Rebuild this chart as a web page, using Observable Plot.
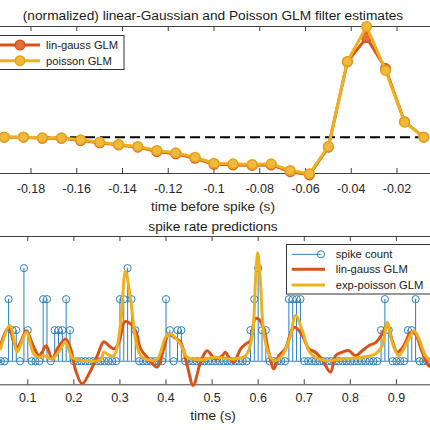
<!DOCTYPE html>
<html><head><meta charset="utf-8">
<script src="https://cdn.jsdelivr.net/npm/d3@7"></script>
<script src="https://cdn.jsdelivr.net/npm/@observablehq/plot@0.6"></script>
<style>
html,body{margin:0;padding:0;background:#fff;}
#fig{position:relative;width:430px;height:430px;overflow:hidden;background:#fff;}
.panel{position:absolute;left:0;width:430px;height:215px;overflow:hidden;}
#overlay{position:absolute;left:0;top:0;}
</style></head><body>
<div id="fig"><div class="panel" id="p1" style="top:0"></div><div class="panel" id="p2" style="top:215px"></div></div>
<script>
// ---------- top panel: filter estimates ----------
const filterLags = [-0.2,-0.1917,-0.1833,-0.175,-0.1667,-0.1583,-0.15,-0.1417,-0.1333,-0.125,-0.1167,-0.1083,-0.1,-0.0917,-0.0833,-0.075,-0.0667,-0.0583,-0.05,-0.0417,-0.0333,-0.025,-0.0167,-0.0083];
const linGaussFilter = [0,0,0,-0.01,-0.01,-0.03,-0.05,-0.07,-0.09,-0.13,-0.15,-0.19,-0.245,-0.25,-0.255,-0.25,-0.31,-0.34,-0.09,0.68,0.9,0.62,0.14,0.0];
const poissonFilter = [0,0,0,-0.006,-0.006,-0.024,-0.045,-0.066,-0.084,-0.12,-0.141,-0.181,-0.235,-0.241,-0.247,-0.241,-0.301,-0.331,-0.084,0.684,1.0,0.603,0.136,0.0];
const filterTicks = [-0.18,-0.16,-0.14,-0.12,-0.1,-0.08,-0.06,-0.04,-0.02];

// ---------- bottom panel: spike rate predictions ----------
const binWidth = 1/120;
const spikeCounts = [
 0,0,0,0,0,0,0,2,1,1,
 0,3,1,0,0,0,2,2,0,1,
 1,1,2,1,0,0,0,0,0,0,
 0,0,0,0,0,0,2,2,3,2,
 1,0,0,0,0,0,0,0,2,1,
 0,1,1,0,0,0,0,0,0,0,
 0,0,0,0,0,0,0,0,0,0,
 1,2,3,1,1,0,0,0,0,0,
 2,2,2,2,0,0,0,0,0,0,
 0,0,0,0,0,0,0,0,0,0,
 0,0,0,0,1,2,1,0,0,0,
 0,1,1,2,0,0,0,0,0,0];
const linGaussT = [0.041,0.048,0.059,0.070,0.077,0.084,0.097,0.110,0.124,0.131,0.140,0.153,0.164,0.182,0.193,0.204,0.218,0.233,0.251,0.265,0.276,0.287,0.298,0.310,0.319,0.334,0.345,0.359,0.381,0.395,0.406,0.417,0.431,0.446,0.459,0.475,0.489,0.507,0.522,0.529,0.536,0.547,0.562,0.573,0.583,0.593,0.601,0.612,0.623,0.634,0.645,0.659,0.674,0.681,0.696,0.710,0.724,0.739,0.757,0.768,0.782,0.797,0.811,0.826,0.840,0.855,0.869,0.880,0.891,0.902,0.916,0.931,0.941,0.956,0.970,0.980];
const linGaussRate = [0.5,0.82,1.09,0.6,0.45,0.6,0.98,0.56,0.18,0.29,0.5,0.07,0.4,0.72,0.4,-0.3,-0.73,-0.4,0.18,0.63,0.5,0.4,0.61,1.27,1.25,0.98,0.4,0.13,-0.19,0.4,0.88,0.77,0.63,-0.14,-0.78,-0.03,0.34,0.07,0.18,0.29,0.13,-0.03,0.4,0.56,0.66,1.36,1.36,1.04,0.29,-0.25,0.18,0.4,1.04,1.09,0.82,0.4,0.29,0.05,-0.35,0.18,0.29,0.34,0.18,0.34,0.5,0.6,0.88,1.2,0.66,0.29,0.5,0.93,0.88,0.29,-0.14,-0.2];
const poissonT = [0.041,0.061,0.077,0.084,0.097,0.113,0.124,0.135,0.153,0.167,0.182,0.196,0.207,0.258,0.265,0.276,0.287,0.301,0.312,0.323,0.334,0.345,0.359,0.381,0.399,0.410,0.431,0.446,0.475,0.507,0.544,0.573,0.587,0.594,0.599,0.605,0.612,0.623,0.634,0.652,0.670,0.681,0.696,0.710,0.724,0.753,0.782,0.826,0.855,0.869,0.880,0.891,0.905,0.923,0.938,0.949,0.963,0.974,0.985];
const poissonRate = [0.4,1.15,0.3,0.5,0.93,0.24,0.13,0.18,0.07,0.3,0.6,0.13,0.05,0.05,0.29,0.2,0.18,1.15,2.91,2.0,0.72,0.18,0.05,0.07,0.77,0.88,0.56,0.13,0.05,0.13,0.07,0.18,0.82,2.54,3.5,2.54,0.93,0.24,0.02,0.18,0.82,1.47,0.98,0.34,0.13,0.02,0.07,0.13,0.24,0.5,1.25,0.6,0.18,0.6,0.98,0.72,0.18,0.02,0.0];
const rateTicks = [0.1,0.2,0.3,0.4,0.5,0.6,0.7,0.8,0.9];

// ---------- styling ----------
const FONT = '"Liberation Sans", Arial, Helvetica, sans-serif';
const AX = "#404040", TXT = "#262626";
const BLUE = "#2b80bf", RED = "#D95319", YEL = "#EDB120";
const W = 430;

// ---------- top plot ----------
const H1 = 215, mt1 = 26, mb1 = 42, fh1 = H1 - mt1 - mb1;
const yDom1 = [-0.328, 1.0], xDom1 = [-0.19333, -0.005355];
const filterRows = filterLags.map((t, i) => ({t, lg: linGaussFilter[i], po: poissonFilter[i]}));
const plot1 = Plot.plot({
  width: W, height: H1, marginTop: mt1, marginBottom: mb1, marginLeft: 0, marginRight: 0,
  x: {domain: xDom1}, y: {domain: yDom1, axis: null},
  style: {fontFamily: FONT, fontSize: "12.5px", color: TXT, background: "transparent"},
  marks: [
    Plot.ruleY([yDom1[0]], {stroke: AX, strokeWidth: 1}),
    Plot.ruleY([yDom1[1]], {stroke: AX, strokeWidth: 1}),
    Plot.tickX(filterTicks, {x: d => d, insetTop: fh1 - 5, stroke: AX}),
    Plot.tickX(filterTicks, {x: d => d, insetBottom: fh1 - 5, stroke: AX}),
    Plot.ruleY([0], {stroke: "#000", strokeWidth: 2, strokeDasharray: "10,5", strokeDashoffset: 5}),
    Plot.line(filterRows, {x: "t", y: "lg", stroke: RED, strokeWidth: 3}),
    Plot.dot(filterRows, {x: "t", y: "lg", r: 4.8, fill: "#E0703E", stroke: RED, strokeWidth: 1.5}),
    Plot.line(filterRows, {x: "t", y: "po", stroke: YEL, strokeWidth: 3}),
    Plot.dot(filterRows, {x: "t", y: "po", r: 4.8, fill: "#F0B93A", stroke: "#E2A21C", strokeWidth: 1.5}),
    Plot.axisX(filterTicks, {anchor: "bottom", tickSize: 0, tickPadding: 10.8, tickFormat: d => String(d), fontSize: 12.5, label: null})
  ]
});
document.getElementById("p1").appendChild(plot1);

// ---------- bottom plot ----------
const H2 = 215, mt2 = 21, mb2 = 45.7, fh2 = H2 - mt2 - mb2;
const yDom2 = [-0.76, 4.02], xDom2 = [0.0408, 0.974];
const spikeRows = spikeCounts.map((c, i) => ({t: i * binWidth, c}));
const lgRows = linGaussT.map((t, i) => ({t, v: linGaussRate[i]}));
const poRows = poissonT.map((t, i) => ({t, v: poissonRate[i]}));
const plot2 = Plot.plot({
  width: W, height: H2, marginTop: mt2, marginBottom: mb2, marginLeft: 0, marginRight: 0,
  x: {domain: xDom2}, y: {domain: yDom2, axis: null},
  style: {fontFamily: FONT, fontSize: "12.5px", color: TXT, background: "transparent"},
  marks: [
    Plot.ruleY([yDom2[0]], {stroke: AX, strokeWidth: 1}),
    Plot.ruleY([yDom2[1]], {stroke: AX, strokeWidth: 1}),
    Plot.tickX(rateTicks, {x: d => d, insetTop: fh2 - 5, stroke: AX}),
    Plot.tickX(rateTicks, {x: d => d, insetBottom: fh2 - 5, stroke: AX}),
    Plot.ruleY([0], {stroke: BLUE, strokeWidth: 1}),
    Plot.ruleX(spikeRows, {x: "t", y1: 0, y2: "c", stroke: BLUE, strokeWidth: 1}),
    Plot.dot(spikeRows, {x: "t", y: "c", r: 3.6, stroke: BLUE, fill: "none", strokeWidth: 1}),
    Plot.line(lgRows, {x: "t", y: "v", stroke: RED, strokeWidth: 3, curve: "catmull-rom"}),
    Plot.line(poRows, {x: "t", y: "v", stroke: YEL, strokeWidth: 3, curve: "catmull-rom"}),
    Plot.axisX(rateTicks, {anchor: "bottom", tickSize: 0, tickPadding: 8.8, tickFormat: d => String(d), fontSize: 12.5, label: null})
  ]
});
document.getElementById("p2").appendChild(plot2);

// ---------- titles, labels, legends ----------
const svg = d3.create("svg").attr("id", "overlay").attr("width", 430).attr("height", 430)
  .style("font-family", FONT);
function label(x, y, s, size, anchor = "middle", color = "#1a1a1a") {
  svg.append("text").attr("x", x).attr("y", y).attr("text-anchor", anchor)
    .attr("font-size", size).attr("fill", color).text(s);
}
label(213, 20.4, "(normalized) linear-Gaussian and Poisson GLM filter estimates", 13.7);
label(213, 211.3, "time before spike (s)", 13.7, "middle", TXT);
label(213, 230.5, "spike rate predictions", 13.7);
label(213, 419.8, "time (s)", 13.7, "middle", TXT);

// legend 1 (top)
svg.append("rect").attr("x", -4.5).attr("y", 35.5).attr("width", 128.5).attr("height", 34)
  .attr("fill", "#fff").attr("stroke", "#333").attr("stroke-width", 1);
[[45, RED, "#E0703E", RED, "lin-gauss GLM"], [60.7, YEL, "#F0B93A", "#E2A21C", "poisson GLM"]].forEach(([y, c, f, s, t]) => {
  svg.append("line").attr("x1", 0).attr("x2", 40).attr("y1", y).attr("y2", y).attr("stroke", c).attr("stroke-width", 3);
  svg.append("circle").attr("cx", 20).attr("cy", y).attr("r", 4.8).attr("fill", f).attr("stroke", s).attr("stroke-width", 1.5);
  label(46, y + 4, t, 11.2, "start");
});

// legend 2 (bottom)
svg.append("rect").attr("x", 286.5).attr("y", 244.5).attr("width", 160).attr("height", 49.5)
  .attr("fill", "#fff").attr("stroke", "#333").attr("stroke-width", 1);
svg.append("line").attr("x1", 291.7).attr("x2", 321).attr("y1", 254.3).attr("y2", 254.3).attr("stroke", BLUE).attr("stroke-width", 1);
svg.append("circle").attr("cx", 321).attr("cy", 254.3).attr("r", 3.6).attr("fill", "none").attr("stroke", BLUE).attr("stroke-width", 1);
label(335.7, 258.3, "spike count", 11.2, "start");
svg.append("line").attr("x1", 291.7).attr("x2", 325).attr("y1", 269.3).attr("y2", 269.3).attr("stroke", RED).attr("stroke-width", 3);
label(335.7, 273.3, "lin-gauss GLM", 11.2, "start");
svg.append("line").attr("x1", 291.7).attr("x2", 325).attr("y1", 285).attr("y2", 285).attr("stroke", YEL).attr("stroke-width", 3);
label(335.7, 289, "exp-poisson GLM", 11.2, "start");

document.getElementById("fig").appendChild(svg.node());
</script>
</body></html>
